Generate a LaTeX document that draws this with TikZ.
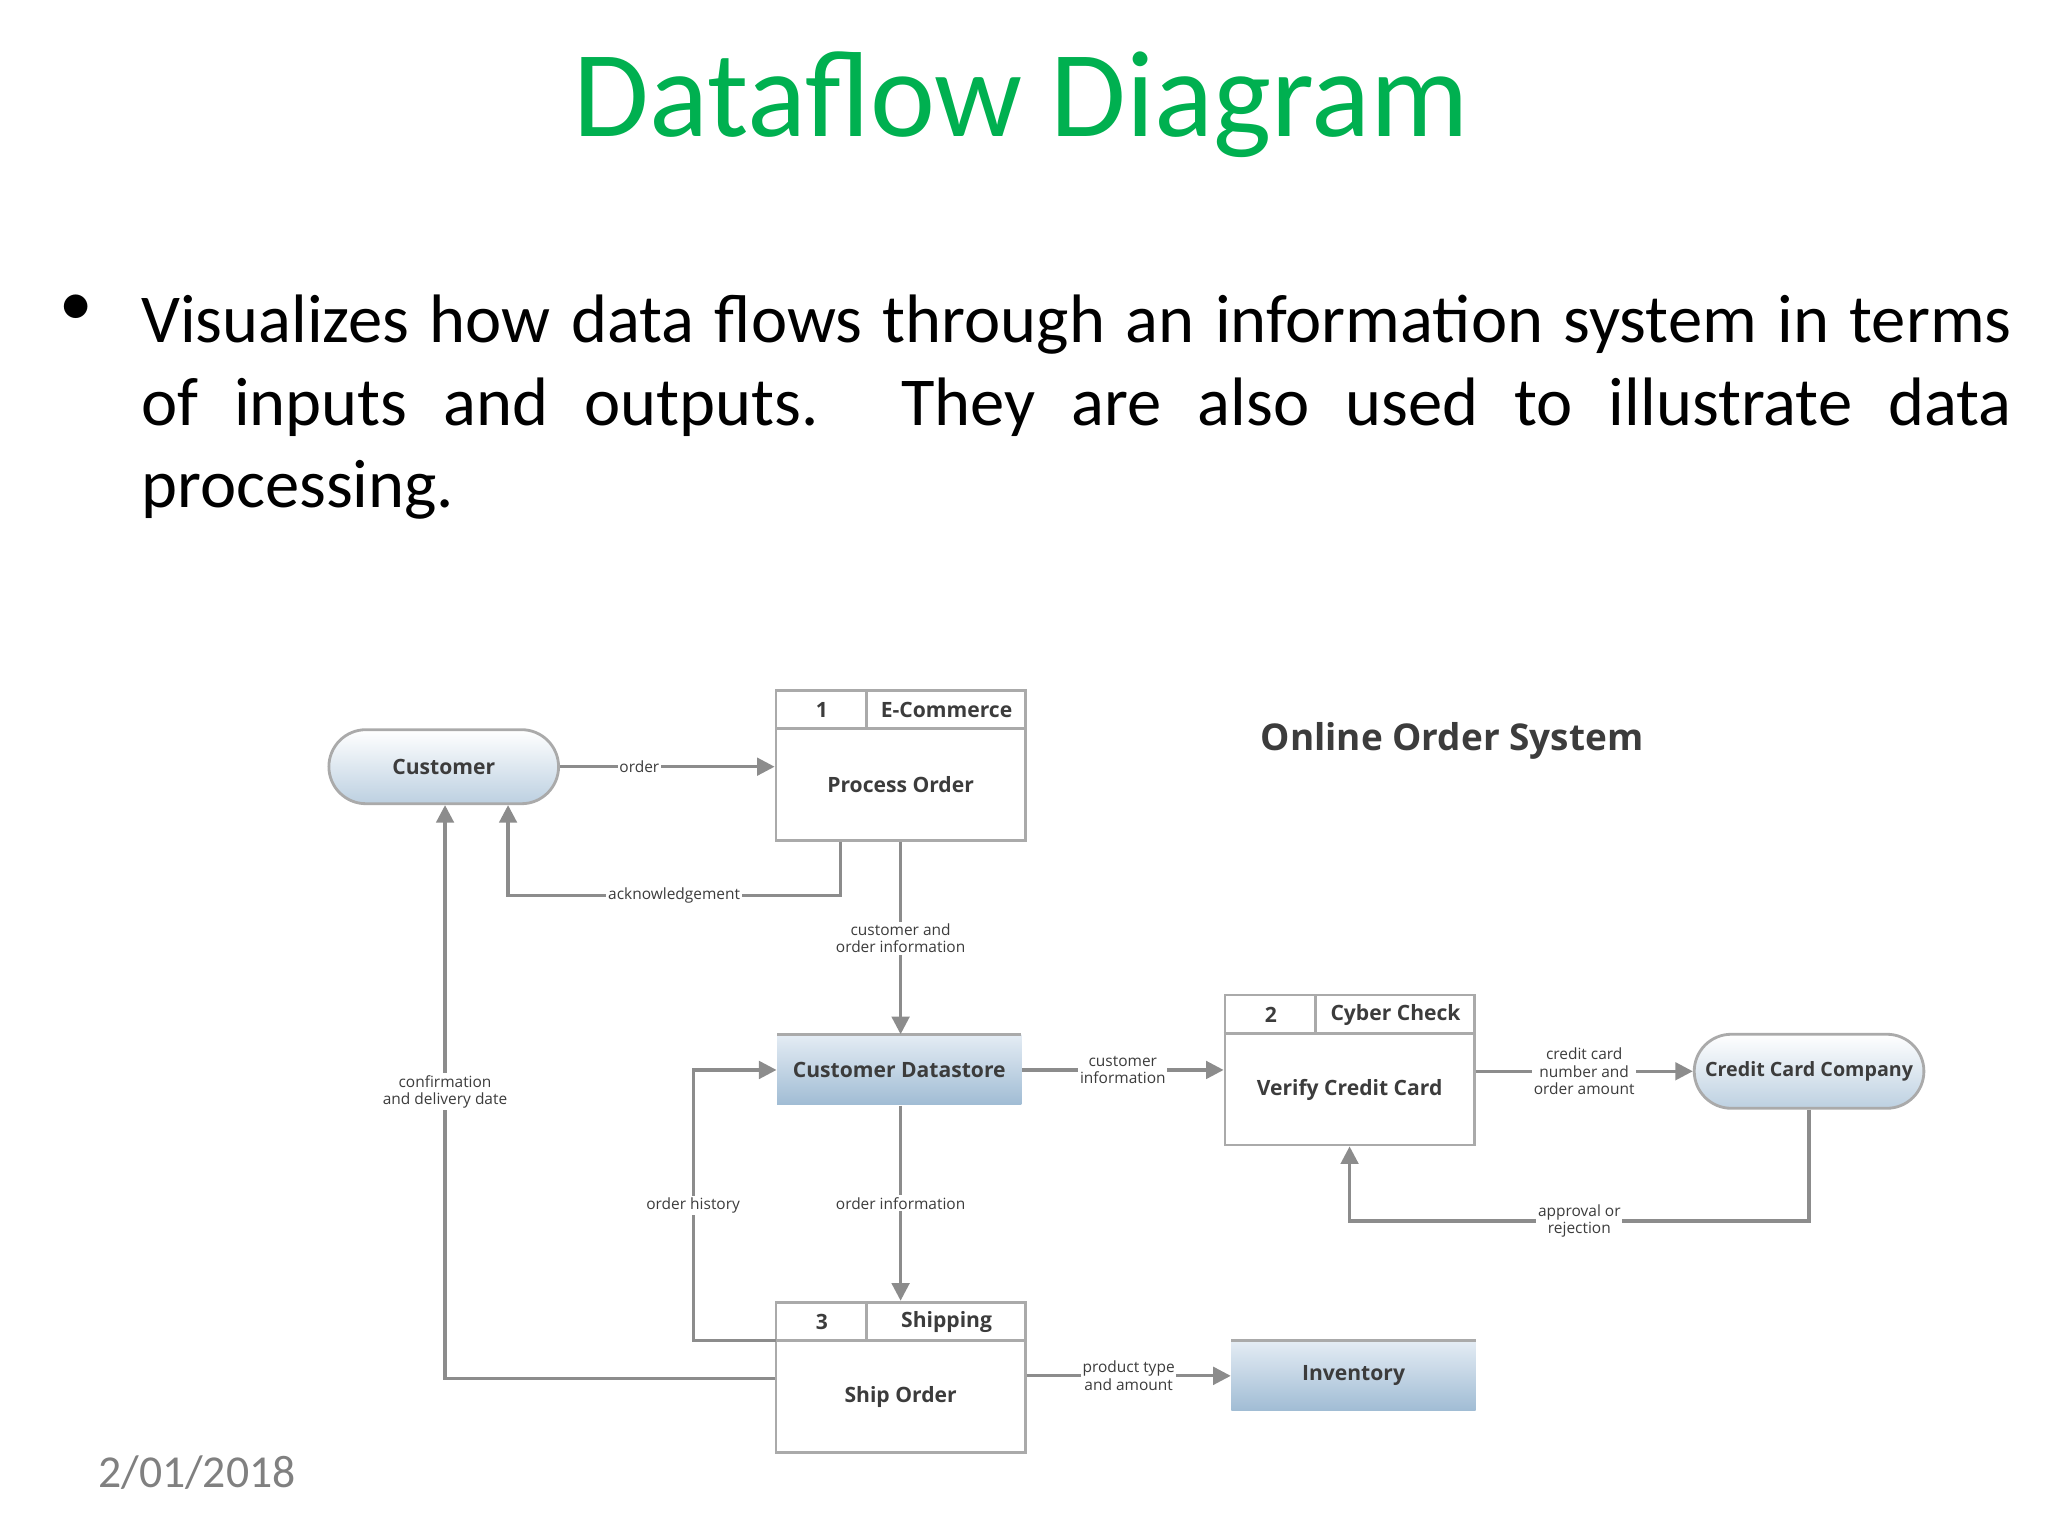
\documentclass[tikz,border=0pt]{standalone}
\usepackage{fontspec}
\setmainfont{Carlito}
\newfontfamily\dsans{Open Sans}
\usetikzlibrary{arrows.meta,shapes.misc}
\definecolor{ttl}{RGB}{0,176,80}
\definecolor{ln}{RGB}{140,140,140}
\definecolor{bx}{RGB}{170,170,170}
\definecolor{tx}{RGB}{60,60,60}
\definecolor{stt}{RGB}{228,236,244}
\definecolor{stb}{RGB}{160,188,212}
\begin{document}
\begin{tikzpicture}[x=0.013128cm,y=-0.013128cm,
  lbl/.style={font=\dsans\fontsize{4.4}{5.0}\selectfont,text=tx,align=center,fill=white,inner sep=0.5pt},
  flow/.style={draw=ln,line width=0.9pt,-{Triangle[length=5pt,width=5pt]}},
  pill/.style={rounded rectangle,draw=bx,line width=0.8pt,top color=white,bottom color=stb!70,minimum width=2.53cm,minimum height=0.74cm,font=\dsans\bfseries\fontsize{6}{7}\selectfont,text=tx},
  store/.style={draw=none,top color=stt,bottom color=stb,minimum width=2.44cm,minimum height=0.7cm,font=\dsans\bfseries\fontsize{6}{7}\selectfont,text=tx,inner sep=0},
  bt/.style={font=\dsans\bfseries\fontsize{6}{7}\selectfont,text=tx},
  pbox/.style={draw=bx,line width=0.8pt,minimum width=2.49cm,minimum height=1.5cm,inner sep=0}]
\useasboundingbox (0,0) rectangle (1560,1170);
\node[text=ttl,font=\fontsize{35}{38}\selectfont] (title) at (778,80) {Dataflow Diagram};
\node[anchor=north west,inner sep=0,font=\fontsize{19}{23.5}\selectfont] (bul) at (45,224) {\textbullet};
\node[anchor=north west,inner sep=0,text width=18.7cm,align=justify,font=\fontsize{19.5}{23.5}\selectfont] (body) at (107,224) {Visualizes how data flows through an information system in terms\linebreak of inputs and outputs. They are also used to illustrate data\linebreak processing.};
\node[font=\dsans\bfseries\fontsize{10.5}{12}\selectfont,text=tx] (oos) at (1106,564) {Online Order System};
% processes
\node[pbox] (p1) at (686,583) {};
\draw[bx,line width=0.8pt] (591,555) -- (781,555) (660,526) -- (660,555);
\node[bt] (p1n) at (626,541) {1};
\node[bt] (p1h) at (721,541) {E-Commerce};
\node[bt] (p1t) at (686,598) {Process Order};
\node[pbox] (p2) at (1028,815) {};
\draw[bx,line width=0.8pt] (932,787) -- (1124,787) (1002,758) -- (1002,787);
\node[bt] (p2n) at (968,773) {2};
\node[bt] (p2h) at (1063,773) {Cyber Check};
\node[bt] (p2t) at (1028,830) {Verify Credit Card};
\node[pbox] (p3) at (686,1049) {};
\draw[bx,line width=0.8pt] (591,1021) -- (781,1021) (660,992) -- (660,1021);
\node[bt] (p3n) at (626,1007) {3};
\node[bt] (p3h) at (721,1007) {Shipping};
\node[bt] (p3t) at (686,1064) {Ship Order};
% externals
\node[pill] (cust) at (338,584) {Customer};
\node[pill,font=\dsans\bfseries\fontsize{5.6}{7}\selectfont] (ccc) at (1378,816) {Credit Card Company};
\node[store] (cds) at (685,815) {Customer Datastore};
\draw[bx,line width=0.8pt] (592,788) -- (778,788);
\node[store] (inv) at (1031,1048) {Inventory};
\draw[bx,line width=0.8pt] (938,1021) -- (1124,1021);
\node[text=gray,font=\fontsize{13}{14}\selectfont] (date) at (150,1122) {2/01/2018};
% coordinates
\coordinate (a1) at (640,682); \coordinate (a2) at (387,682);
\coordinate (h0) at (591,1021); \coordinate (h1) at (528,1021); \coordinate (h2) at (528,815);
\coordinate (c1) at (339,1050);
\coordinate (r1) at (1378,930); \coordinate (r2) at (1028,930);
% flows
\draw[flow] (cust.east) -- node[lbl,pos=0.37]{order} (p1.west |- cust.east);
\draw[flow] (p1.south -| a1) -- (a1) -- node[lbl,pos=0.5]{acknowledgement} (a2) -- (cust.south -| a2);
\draw[flow] (p1.south) -- node[lbl]{customer and\\order information} (cds.north -| p1.south);
\draw[flow] (cds.south -| p1.south) -- node[lbl]{order information} (p3.north);
\draw[flow] (h0) -- (h1) -- node[lbl]{order history} (h2) -- (cds.west);
\draw[flow] (p3.west |- c1) -- (c1) -- node[lbl,pos=0.5]{confirmation\\and delivery date} (cust.south -| c1);
\draw[flow] (cds.east) -- node[lbl]{customer\\information} (p2.west |- cds.east);
\draw[flow] (p2.east |- ccc.west) -- node[lbl]{credit card\\number and\\order amount} (ccc.west);
\draw[flow] (ccc.south) -- (r1) -- node[lbl,pos=0.5]{approval or\\rejection} (r2) -- (p2.south);
\draw[flow] (p3.east |- inv.west) -- node[lbl]{product type\\and amount} (inv.west);
\end{tikzpicture}
\end{document}
